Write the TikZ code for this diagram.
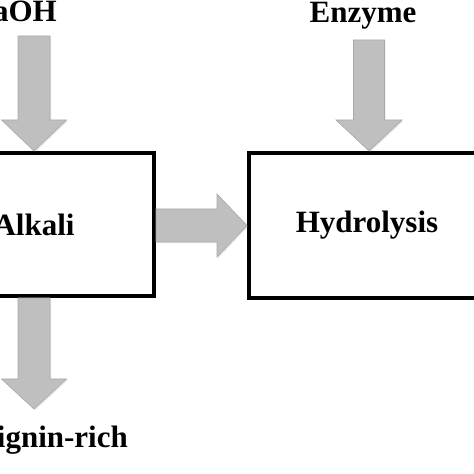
\documentclass[tikz,border=0pt]{standalone}
\usepackage{fontspec}
\setmainfont{Liberation Serif}
\usetikzlibrary{calc,shadows}
\definecolor{arrowfill}{HTML}{BFBFBF}
\definecolor{arrowedge}{HTML}{A9A9A9}
\newcommand\blockarrow[5]{%
  \coordinate (ba-base) at ($(#2)!#5!(#1)$);
  \draw[barrow] ($(#1)!#3!90:(#2)$) -- ($(ba-base)!#3!90:(#2)$) -- ($(ba-base)!#4!90:(#2)$) -- (#2)
    -- ($(ba-base)!#4!-90:(#2)$) -- ($(ba-base)!#3!-90:(#2)$) -- ($(#1)!#3!-90:(#2)$) -- cycle;}
\begin{document}
\begin{tikzpicture}[x=1pt,y=1pt,
  txt/.style={font=\fontsize{31}{36}\selectfont\bfseries, inner sep=0pt},
  stagebox/.style={draw=black, line width=4pt, fill=white, inner sep=0pt,
    font=\fontsize{31}{36}\selectfont\bfseries},
  barrow/.style={fill=arrowfill, draw=arrowedge, line width=0.6pt, line join=miter,
    drop shadow={opacity=0.18, shadow xshift=1.2pt, shadow yshift=-1.2pt}}]
\useasboundingbox (0,0) rectangle (474,474);
\node[stagebox, minimum width=240pt, minimum height=143pt] (alk) at (34,249.5) {Alkali};
\node[stagebox, minimum width=236pt, minimum height=145pt] (hyd) at (367,248.5) {Hydrolysis};
\node[txt, anchor=base east] (naoh) at (57,452) {NaOH};
\node[txt, anchor=base] (enz) at (363,451) {Enzyme};
\node[txt, anchor=base east] (lig) at (128,27) {Lignin-rich};
\coordinate (naS) at ($(alk.north)+(0,115)$);
\coordinate (enS) at ($(hyd.north)+(2,111)$);
\coordinate (enT) at ($(hyd.north)+(2,0)$);
\coordinate (ligT) at ($(alk.south)+(0,-111)$);
\coordinate (midS) at (hyd.west -| alk.east);
\blockarrow{naS}{alk.north}{16pt}{32.5pt}{31pt}
\blockarrow{enS}{enT}{15.5pt}{33pt}{31pt}
\blockarrow{alk.south}{ligT}{16pt}{32.5pt}{30pt}
\blockarrow{midS}{hyd.west}{16.5pt}{31.5pt}{30pt}
\end{tikzpicture}
\end{document}
